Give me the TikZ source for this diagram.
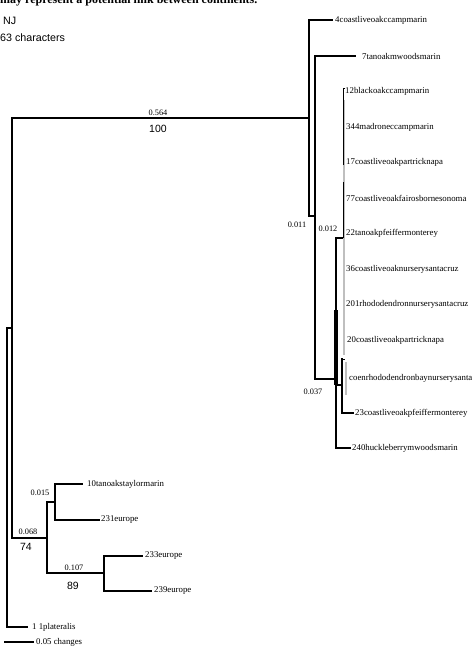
\documentclass[tikz,border=0pt]{standalone}
\usepackage{fontspec}
\setmainfont{Liberation Serif}
\newfontfamily\arialf{Liberation Sans}
\begin{document}
\begin{tikzpicture}[x=1bp,y=-1bp,
  br/.style={line width=2bp,line cap=rect},
  thinbr/.style={line width=1bp},
  greybr/.style={line width=2.6bp,color=black!25},
  leaf/.style={anchor=west,inner sep=0pt,font=\fontsize{8.8bp}{10bp}\selectfont},
  blen/.style={inner sep=0pt,font=\fontsize{8.3bp}{10bp}\selectfont},
  boot/.style={inner sep=0pt,font=\arialf\fontsize{10.5bp}{12bp}\selectfont},
  hdr/.style={anchor=west,inner sep=0pt,font=\arialf\fontsize{10.7bp}{12bp}\selectfont}]
\useasboundingbox (0,0) rectangle (474,647);
\clip (0,0) rectangle (474,647);
% header
\node[anchor=base west,inner sep=0pt,font=\bfseries\fontsize{12bp}{14bp}\selectfont] (title) at (0,3.5) {may represent a potential link between continents.};
\node[hdr] (nj) at (3,21) {NJ};
\node[hdr] (chars) at (0,38) {63 characters};
% ---------- coordinates of internal nodes
\coordinate (root) at (7,328);
\coordinate (nA) at (12,328);
\coordinate (c309) at (309,118);
\coordinate (c315) at (315,216);
\coordinate (c336) at (336,379);
\coordinate (c343) at (343,238);
\coordinate (c342) at (342,385);
\coordinate (e47) at (47,538);
\coordinate (e55) at (55,502);
\coordinate (e104) at (104,573);
% tips
\coordinate (t4) at (332,20);
\coordinate (t7) at (355,56);
\coordinate (t23) at (353,413);
\coordinate (t240) at (350,448);
\coordinate (t10) at (82,484);
\coordinate (t231) at (99,520);
\coordinate (t233) at (142,556);
\coordinate (t239) at (151,591);
\coordinate (t11) at (27,627);
% ---------- leaves
\node[leaf] (l4) at (335,20) {4coastliveoakccampmarin};
\node[leaf] (l7) at (362,56) {7tanoakmwoodsmarin};
\node[leaf] (l12) at (345,91) {12blackoakccampmarin};
\node[leaf] (l344) at (346,127) {344madroneccampmarin};
\node[leaf] (l17) at (346,162) {17coastliveoakpartricknapa};
\node[leaf] (l77) at (346,198) {77coastliveoakfairosbornesonoma};
\node[leaf] (l22) at (346,233) {22tanoakpfeiffermonterey};
\node[leaf] (l36) at (346,269) {36coastliveoaknurserysantacruz};
\node[leaf] (l201) at (346,304) {201rhododendronnurserysantacruz};
\node[leaf] (l20) at (347,340) {20coastliveoakpartricknapa};
\node[leaf] (lcoen) at (349,378) {coenrhododendronbaynurserysanta};
\node[leaf] (l23) at (355,413) {23coastliveoakpfeiffermonterey};
\node[leaf] (l240) at (352,448) {240huckleberrymwoodsmarin};
\node[leaf] (l10) at (87,484) {10tanoakstaylormarin};
\node[leaf] (l231) at (101,520) {231europe};
\node[leaf] (l233) at (145,556) {233europe};
\node[leaf] (l239) at (154,591) {239europe};
\node[leaf] (l11) at (32,627) {1 1plateralis};
% ---------- branches
% root
\draw[br] (root) -- (root |- t11) -- (t11);
\draw[br] (root) -- (nA);
\draw[br] (nA |- c309) -- (nA |- e47);
% big clade
\draw[br] (nA |- c309) -- (c309);
\draw[br] (c309 |- t4) -- (c309 |- c315);
\draw[br] (c309 |- t4) -- (t4);
\draw[br] (c309 |- c315) -- (c315);
\draw[br] (c315 |- t7) -- (c315 |- c336);
\draw[br] (c315 |- t7) -- (t7);
\draw[br] (c315 |- c336) -- (c336);
% node 336
\draw[br] (c336 |- c343) -- (c336 |- t240) -- (t240);
\draw[line width=3.5bp] (336,310) -- (336,385);
\draw[br] (c336 |- c343) -- (c343);
% polytomy (grey)
\draw[greybr] (344,100) -- (344,355);
\draw[thinbr] (343,88) -- (343,165);
\draw[thinbr] (343,182) -- (c343);
\draw[thinbr] (343,88.5) -- (345,88.5);
% node 342
\draw[br] (c336 |- c342) -- (c342);
\draw[br] (342,359) -- (c342 |- t23) -- (t23);
\draw[thinbr] (342,359) -- (345,359);
\draw[line width=2bp,color=black!25] (346,362) -- (346,395);
% europe clade
\draw[br] (nA |- e47) -- (e47);
\draw[br] (e47 |- e55) -- (e47 |- e104);
\draw[br] (e47 |- e55) -- (e55);
\draw[br] (e55 |- t10) -- (e55 |- t231);
\draw[br] (e55 |- t10) -- (t10);
\draw[br] (e55 |- t231) -- (t231);
\draw[br] (e47 |- e104) -- (e104);
\draw[br] (e104 |- t233) -- (e104 |- t239);
\draw[br] (e104 |- t233) -- (t233);
\draw[br] (e104 |- t239) -- (t239);
% branch labels
\node[blen] (b564) at (158,113) {0.564};
\node[boot] (s100) at (158,129) {100};
\node[blen] (b011) at (297,225) {0.011};
\node[blen] (b012) at (328,229) {0.012};
\node[blen] (b037) at (313,392) {0.037};
\node[blen] (b015) at (40,493) {0.015};
\node[blen] (b068) at (28,532) {0.068};
\node[boot] (s74) at (26,547) {74};
\node[blen] (b107) at (74,568) {0.107};
\node[boot] (s89) at (73,586) {89};
% scale bar
\coordinate (sb0) at (5,642);
\coordinate (sb1) at (33,642);
\draw[br] (sb0) -- (sb1);
\node[leaf] (sbl) at (36,642) {0.05 changes};
\end{tikzpicture}
\end{document}
